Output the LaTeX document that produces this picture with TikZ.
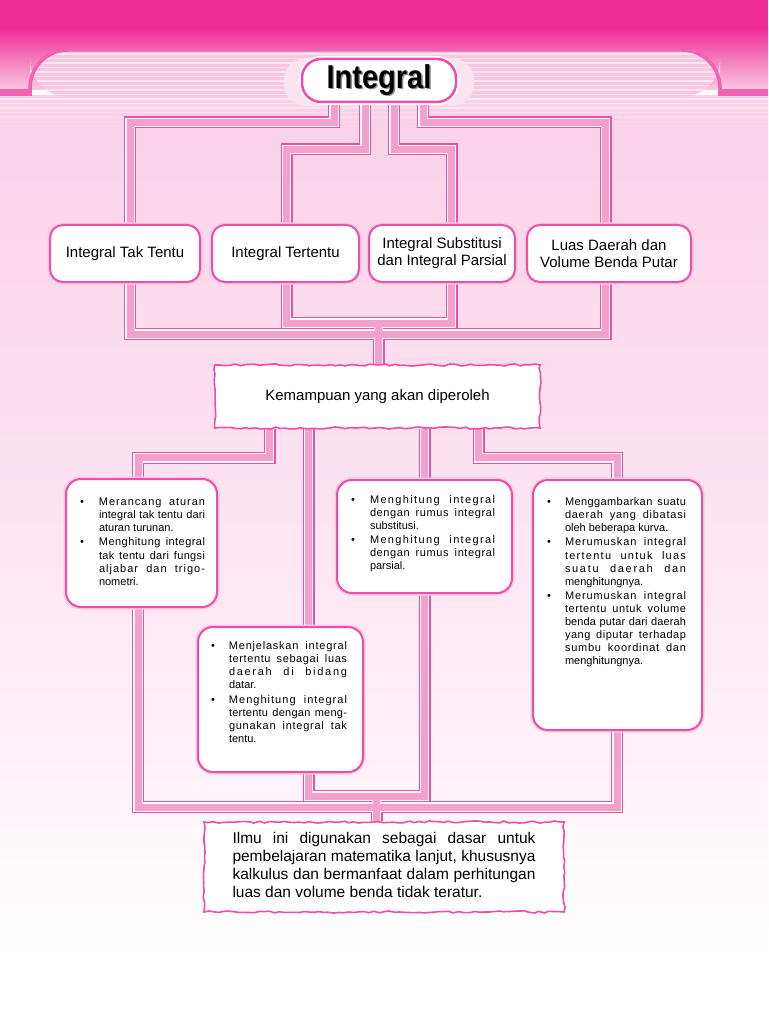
\documentclass[tikz,border=0pt]{standalone}
\usepackage{fontspec}
\setmainfont{Liberation Sans}
\usepackage{graphicx}
\usetikzlibrary{decorations.pathmorphing,calc}
\definecolor{mag}{HTML}{EF2D98}
\definecolor{magsoft}{HTML}{F9C8E2}
\definecolor{rim}{HTML}{F062B2}
\definecolor{tabfill}{HTML}{F9C6E0}
\definecolor{pagepink}{HTML}{FAD1E7}
\definecolor{pagemid}{HTML}{FDE8F3}
\definecolor{halo}{HTML}{FDE2F0}
\definecolor{boxpink}{HTML}{EE4FA6}
\definecolor{pipeedge}{HTML}{EE4FA6}
\definecolor{pipefill}{HTML}{F4A0CD}
\newlength\colw
\newlength\bx
\newlength\bgap
\newcommand\myjl[1]{\hbox to\colw{\strut#1}}
\newcommand\myll[1]{\hbox to\colw{\strut#1\hfil}}
\ExplSyntaxOn
\cs_new_protected:Npn \my_ls_word:n #1
  { \tl_map_inline:nn {#1} { ##1 \hskip 0pt plus 1pt \relax } \unskip }
\NewDocumentCommand \myjs { m }
  {
    \hbox to \colw
      {
        \strut
        \seq_set_split:Nnn \l_tmpa_seq { ~ } {#1}
        \seq_map_inline:Nn \l_tmpa_seq { \my_ls_word:n {##1} \hskip 0.28em plus 5pt \relax }
        \unskip
      }
  }
\ExplSyntaxOff
\newcommand\mybul[1]{\hbox{\hskip\bx\hbox to\bgap{\textbullet\hfil}\vtop{#1}}}
\newcommand\boxtop[1]{\hrule height0pt width\hsize\vspace*{#1}}
\pgfdeclarelayer{bg}
\pgfdeclarelayer{pipes}
\pgfsetlayers{bg,pipes,main}
\newcommand\PipeNet[1]{%
  \draw[#1] ([xshift=-45]title.south) -- ++(0,19) -| ([xshift=5]b1.north);
  \draw[#1] ([xshift=-14]title.south) -- ++(0,46) -| ([xshift=1]b2.north);
  \draw[#1] ([xshift=15]title.south) -- ++(0,46) -| ([xshift=9.5]b3.north);
  \draw[#1] ([xshift=44]title.south) -- ++(0,19) -| ([xshift=-3.5]b4.north);
  \draw[#1] ([xshift=5]b1.south) -- ++(0,51) -| ([xshift=1]kem.north);
  \draw[#1] ([xshift=1]b2.south) -- ++(0,40) -| ([xshift=1]kem.north);
  \draw[#1] ([xshift=9.5]b3.south) -- ++(0,40) -| ([xshift=1]kem.north);
  \draw[#1] ([xshift=-3.5]b4.south) -- ++(0,51) -| ([xshift=1]kem.north);
  \draw[#1] ([xshift=-108]kem.south) -- ++(0,29) -| ([xshift=-3.5]bA.north);
  \draw[#1] ([xshift=-69]kem.south) -- ([xshift=28]bD.north);
  \draw[#1] ([xshift=47]kem.south) -- (bB.north);
  \draw[#1] ([xshift=101]kem.south) -- ++(0,29) -| ([xshift=-0.5]bC.north);
  \draw[#1] ([xshift=-3.5]bA.south) -- ++(0,199) -| ([xshift=-7.5]ilmu.north);
  \draw[#1] ([xshift=28]bD.south) -- ++(0,23) -| ([xshift=-7.5]ilmu.north);
  \draw[#1] (bB.south) -- ++(0,202) -| ([xshift=-7.5]ilmu.north);
  \draw[#1] ([xshift=-0.5]bC.south) -- ++(0,76) -| ([xshift=-7.5]ilmu.north);
}
\begin{document}
\begin{tikzpicture}[x=1pt,y=-1pt,
  tbox/.style={draw=boxpink, line width=2, fill=white, rounded corners=13,
    preaction={draw=boxpink!30, line width=5}, inner sep=0,
    font=\fontsize{15}{17}\selectfont, align=center},
  lbox/.style={draw=boxpink, line width=2, fill=white, rounded corners=15,
    preaction={draw=boxpink!30, line width=5}, inner sep=0,
    font=\fontsize{11}{13.1}\selectfont},
  tornbox/.style={draw=boxpink, line width=1.6, fill=white, inner sep=0,
    decorate, decoration={random steps, segment length=5pt, amplitude=1.1pt},
    font=\fontsize{15}{18}\selectfont},
  titlebox/.style={draw=boxpink, line width=2.5, fill=white, rounded corners=19,
    preaction={draw=white, line width=6}, inner sep=0,
    minimum width=154, minimum height=43,
    font=\fontsize{33}{33}\bfseries\selectfont},
  pipeA/.style={draw=pipeedge, line width=12},
  pipeB/.style={draw=white, line width=9.4},
  pipeC/.style={draw=pipefill, line width=7}]
\useasboundingbox (0,0) rectangle (768,1024);

% ---------- nodes ----------
\node (title) [titlebox] at (379,80.5)
  {\scalebox{0.88}[1]{\rlap{\hskip1.6pt\raisebox{-1.6pt}{\color{black!45}Integral}}Integral}};

\node (b1) [tbox, minimum width=150, minimum height=57] at (125,253.5) {Integral Tak Tentu};
\node (b2) [tbox, minimum width=147, minimum height=57] at (285.5,253.5) {Integral Tertentu};
\node (b3) [tbox, minimum width=146, minimum height=57] at (442,253.5) {Integral Substitusi\\dan Integral Parsial};
\node (b4) [tbox, minimum width=164, minimum height=57] at (609,253.5) {Luas Daerah dan\\Volume Benda Putar};

\node (kem) [tornbox, minimum width=325, minimum height=63] at (377.5,396.5) {Kemampuan yang akan diperoleh};

\node (bA) [lbox] at (141.5,543) {\parbox[c][128pt][t]{151pt}{%
  \setlength\bx{14pt}\setlength\bgap{19pt}\setlength\colw{106pt}\boxtop{17.5pt}%
  \mybul{\myjs{Merancang aturan}\myjs{integral tak tentu dari}\myll{aturan turunan.}}%
  \mybul{\myjs{Menghitung integral}\myjs{tak tentu dari fungsi}\myjs{aljabar dan trigo-}\myll{nometri.}}}};

\node (bB) [lbox] at (424.5,536.5) {\parbox[c][113pt][t]{175pt}{%
  \setlength\bx{14pt}\setlength\bgap{19pt}\setlength\colw{125pt}\boxtop{14pt}%
  \mybul{\myjs{Menghitung integral}\myjs{dengan rumus integral}\myll{substitusi.}}%
  \mybul{\myjs{Menghitung integral}\myjs{dengan rumus integral}\myll{parsial.}}}};

\node (bC) [lbox] at (617.5,605) {\parbox[c][250pt][t]{169pt}{%
  \setlength\bx{14pt}\setlength\bgap{18pt}\setlength\colw{121pt}\boxtop{16.5pt}%
  \mybul{\myjs{Menggambarkan suatu}\myjs{daerah yang dibatasi}\myll{oleh beberapa kurva.}}%
  \mybul{\myjs{Merumuskan integral}\myjs{tertentu untuk luas}\myjs{suatu daerah dan}\myll{menghitungnya.}}%
  \mybul{\myjs{Merumuskan integral}\myjs{tertentu untuk volume}\myjs{benda putar dari daerah}\myjs{yang diputar terhadap}\myjs{sumbu koordinat dan}\myll{menghitungnya.}}}};

\node (bD) [lbox] at (280.5,699.5) {\parbox[c][145pt][t]{165pt}{%
  \setlength\bx{13pt}\setlength\bgap{18pt}\setlength\colw{118pt}\boxtop{13.5pt}%
  \mybul{\myjs{Menjelaskan integral}\myjs{tertentu sebagai luas}\myjs{daerah di bidang}\myll{datar.}}%
  \mybul{\myjs{Menghitung integral}\myjs{tertentu dengan meng-}\myjs{gunakan integral tak}\myll{tentu.}}}};

\node (ilmu) [tornbox, minimum width=360, minimum height=90] at (384,867) {\parbox{303pt}{%
  \fontsize{15.5}{18}\selectfont\setlength\colw{303pt}%
  \myjl{Ilmu ini digunakan sebagai dasar untuk}%
  \myjl{pembelajaran matematika lanjut, khususnya}%
  \myjl{kalkulus dan bermanfaat dalam perhitungan}%
  \myll{luas dan volume benda tidak teratur.}}};

% ---------- pipes ----------
\begin{pgfonlayer}{pipes}
  \PipeNet{pipeA}
  \PipeNet{pipeB}
  \PipeNet{pipeC}
\end{pgfonlayer}

% ---------- background ----------
\begin{pgfonlayer}{bg}
  \fill[mag] (0,0) rectangle (768,28);
  \shade[top color=mag, bottom color=magsoft] (0,28) rectangle (768,90);
  \shade[top color=pagepink, bottom color=pagemid] (0,96) rectangle (768,600);
  \shade[top color=pagemid, bottom color=white] (0,600) rectangle (768,960);
  \fill[white] (0,960) rectangle (768,1024);
  \fill[rim] (0,89) rectangle (32,96);
  \fill[rim] (718,89) rectangle (768,96);
  \fill[tabfill, rounded corners=38] (30,97) -- (30,50) -- (720,50) -- (720,97) -- cycle;
  \begin{scope}
    \clip[rounded corners=38] (30,97) -- (30,50) -- (720,50) -- (720,97) -- cycle;
    \foreach \yy in {54,58.5,...,96} \draw[white, opacity=0.55, line width=1.8] (0,\yy) -- (768,\yy);
  \end{scope}
  \foreach \yy [evaluate=\yy as \op using {0.55*(128-\yy)/30}] in {99,103.5,...,127}
    \draw[white, opacity=\op, line width=1.8] (0,\yy) -- (768,\yy);
  \draw[rim, line width=3.5, rounded corners=38] (30,96) -- (30,50) -- (720,50) -- (720,96);
  \fill[halo, rounded corners=22] (284,58) rectangle (474,106);
\end{pgfonlayer}
\end{tikzpicture}
\end{document}
